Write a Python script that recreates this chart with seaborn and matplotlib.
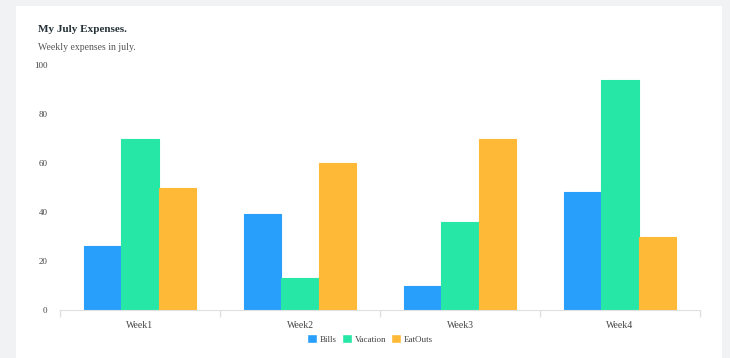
import pandas as pd
import seaborn as sns
import matplotlib.pyplot as plt
from matplotlib.patches import Rectangle, Patch

weeks = ['Week1', 'Week2', 'Week3', 'Week4']
bills = [26, 39, 10, 48]
vacation = [70, 13, 36, 94]
eatouts = [50, 60, 70, 30]
series = ['Bills', 'Vacation', 'EatOuts']
colors = ['#279ffb', '#26e7a6', '#feb936']

df = pd.DataFrame({'week': weeks * 3,
                   'amount': bills + vacation + eatouts,
                   'kind': [s for s in series for _ in weeks]})

sns.set_style('white')
plt.rcParams['font.family'] = ['Liberation Serif', 'DejaVu Serif']

fig = plt.figure(figsize=(7.3, 3.58), dpi=100)
fig.patch.set_facecolor('#f1f2f4')
# white card behind everything
fig.patches.append(Rectangle((16 / 730, 0), (722 - 16) / 730, 1 - 6 / 358,
                             transform=fig.transFigure, facecolor='white',
                             edgecolor='none', zorder=-10))

ax = fig.add_axes([60 / 730, 1 - 310 / 358, 640 / 730, 245 / 358])
ax.set_zorder(5)
ax.set_facecolor('none')
sns.barplot(data=df, x='week', y='amount', hue='kind', palette=colors,
            width=0.7, gap=0, ax=ax, legend=False, saturation=1, linewidth=0.8)
for bar in ax.patches:
    bar.set_edgecolor(bar.get_facecolor())

ax.set_ylim(0, 100)
ax.set_xlim(-0.5, 3.5)
ax.set_yticks([0, 20, 40, 60, 80, 100])
ax.tick_params(axis='y', length=0, labelsize=6.5, labelcolor='#444444', pad=9)
ax.tick_params(axis='x', which='major', length=0, labelsize=7, labelcolor='#444444', pad=8)
ax.set_xticks([-0.5, 0.5, 1.5, 2.5, 3.5], minor=True)
ax.tick_params(axis='x', which='minor', bottom=True, length=5, color='#e0e0e0', width=1)
ax.set_xlabel('')
ax.set_ylabel('')
for side in ['top', 'right', 'left']:
    ax.spines[side].set_visible(False)
ax.spines['bottom'].set_color('#e0e0e0')
ax.grid(False)

fig.text(38 / 730, 1 - 29 / 358, 'My July Expenses.', fontsize=8,
         fontweight='bold', color='#263238', va='center')
fig.text(38 / 730, 1 - 47 / 358, 'Weekly expenses in july.', fontsize=7,
         color='#555555', va='center')

handles = [Patch(facecolor=c, label=s) for c, s in zip(colors, series)]
fig.legend(handles=handles, loc='center', bbox_to_anchor=(370 / 730, 1 - 339 / 358),
           ncol=3, frameon=False, fontsize=6.5, handlelength=1.1, handleheight=1.1,
           handletextpad=0.3, columnspacing=0.6, labelcolor='#444444')

fig.savefig('out.png', dpi=100, facecolor=fig.get_facecolor())
